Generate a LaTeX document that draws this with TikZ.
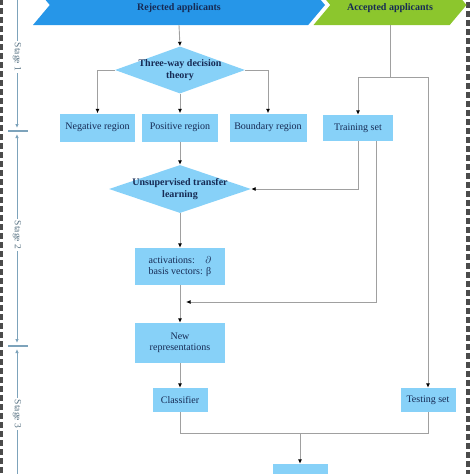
\documentclass[tikz,border=0pt]{standalone}
\usepackage{fontspec}
\setmainfont{Liberation Serif}
\usepackage{tikz}
\usetikzlibrary{arrows.meta,shapes.geometric,shapes.symbols}
\definecolor{banblue}{RGB}{38,150,232}
\definecolor{bangreen}{RGB}{140,198,45}
\definecolor{boxblue}{RGB}{135,209,248}
\definecolor{navytext}{RGB}{22,42,84}
\definecolor{linegray}{RGB}{160,160,160}
\definecolor{stagec}{RGB}{125,163,187}
\definecolor{framegray}{RGB}{75,75,75}

\begin{document}
\begin{tikzpicture}[x=1pt,y=-1pt,
  box/.style={fill=boxblue,text=navytext,font=\fontsize{10}{11.5}\selectfont,inner sep=0pt,align=center},
  decision/.style={diamond,fill=boxblue,inner sep=0pt},
  dtext/.style={text=navytext,font=\bfseries\fontsize{10}{12.5}\selectfont,align=center,inner sep=0pt},
  banner/.style={signal,signal from=west,signal to=east,signal pointer angle=100,minimum height=40pt,inner sep=0pt},
  wire/.style={draw=linegray,line width=0.9pt},
  conn/.style={wire,-{Latex[length=4.5pt,width=4pt,color=black]}},
  stagelbl/.style={rotate=-90,fill=white,text=stagec!70!black,font=\fontsize{9.5}{11}\selectfont,inner sep=2pt},
  stageline/.style={draw=stagec,line width=0.8pt},
  stagearr/.style={stageline,-{Latex[length=4pt,width=3.5pt]}}
]
\useasboundingbox (0,0) rectangle (474,474);
\clip (0,0) rectangle (474,474);

% Dashed frame
\draw [framegray,line width=3.5pt,dash pattern=on 6pt off 3pt] (1.5,-10) rectangle (468,490);

% Banners
\node [banner,fill=banblue,minimum width=292pt] (rej) at (179,5) {};
\node [banner,fill=bangreen,minimum width=153pt] (acc) at (390,5) {};
\node [dtext,font=\bfseries\fontsize{10}{12}\selectfont] (rejtxt) at ([yshift=-3.5pt]rej.center) {Rejected applicants};
\node [dtext,font=\bfseries\fontsize{10}{12}\selectfont] (acctxt) at ([yshift=-3.5pt]acc.center) {Accepted applicants};

% Stage 1
\node [decision,minimum width=130pt,minimum height=47pt] (twd) at (180,70) {};
\node [dtext] (twdtxt) at (twd.center) {Three-way decision\\theory};
\node [box,minimum width=75pt,minimum height=28pt] (neg) at (97.5,127.5) {Negative region};
\node [box,minimum width=76pt,minimum height=28pt] (pos) at (180,127.5) {Positive region};
\node [box,minimum width=77pt,minimum height=28pt] (bnd) at (268,127.5) {Boundary region};
\node [box,minimum width=70pt,minimum height=26pt] (train) at (358,128) {Training set};

% Stage 2
\node [decision,minimum width=142pt,minimum height=48pt] (utl) at (180,189) {};
\node [dtext] (utltxt) at (utl.center) {Unsupervised transfer\\learning};
\node [box,minimum width=90pt,minimum height=37pt] (act) at (180,266.5) {\begin{tabular}{@{}l@{\ }r@{}}activations: & $\partial$\\basis vectors: & β\end{tabular}};
\node [box,minimum width=90pt,minimum height=40pt] (newr) at (180,343) {New\\representations};

% Stage 3
\node [box,minimum width=55pt,minimum height=24pt] (cls) at (180,400) {Classifier};
\node [box,minimum width=55pt,minimum height=24pt] (test) at (428,400) {Testing set};
\node [box,minimum width=55pt,minimum height=24pt] (res) at (300,476) {};

% Connectors
\draw [conn] (rej.south) -- (twd.north);
\draw [conn] (twd.west) -| (neg.north);
\draw [conn] (twd.south) -- (pos.north);
\draw [conn] (twd.east) -| (bnd.north);
\draw [wire] (acc.south) -- (acc.south |- 0,77) coordinate (split);
\draw [conn] (split) -| (train.north);
\draw [conn] (split) -| (test.north);
\draw [conn] (pos.south) -- (utl.north);
\draw [conn] (train.south) |- (utl.east);
\draw [conn] (utl.south) -- (act.north);
\draw [conn] (act.south) -- (newr.north);
\coordinate (join) at (186,302);
\draw [conn] ([xshift=18pt]train.south) |- (join);
\draw [conn] (newr.south) -- (cls.north);
\draw [wire] (cls.south) -- ++(0,21) coordinate (cbot) -| (test.south);
\coordinate (mid) at (res.north |- cbot);
\draw [conn] (mid) -- (res.north);

% Stage bar
\node [stagelbl] (s1) at (17,57) {Stage 1};
\node [stagelbl] (s2) at (17,235) {Stage 2};
\node [stagelbl] (s3) at (17,414) {Stage 3};
\coordinate (t1) at (17,131);
\coordinate (t2) at (17,346);
\draw [stageline,line width=1.4pt] (8,131) -- (28,131);
\draw [stageline,line width=1.4pt] (8,346) -- (28,346);
\draw [stageline] (s1.west) -- (17,-5);
\draw [stagearr] (s1.east) -- ([yshift=3pt]t1);
\draw [stagearr] (s2.west) -- ([yshift=-3pt]t1);
\draw [stagearr] (s2.east) -- ([yshift=3pt]t2);
\draw [stagearr] (s3.west) -- ([yshift=-3pt]t2);
\draw [stageline] (s3.east) -- (17,480);
\end{tikzpicture}
\end{document}
